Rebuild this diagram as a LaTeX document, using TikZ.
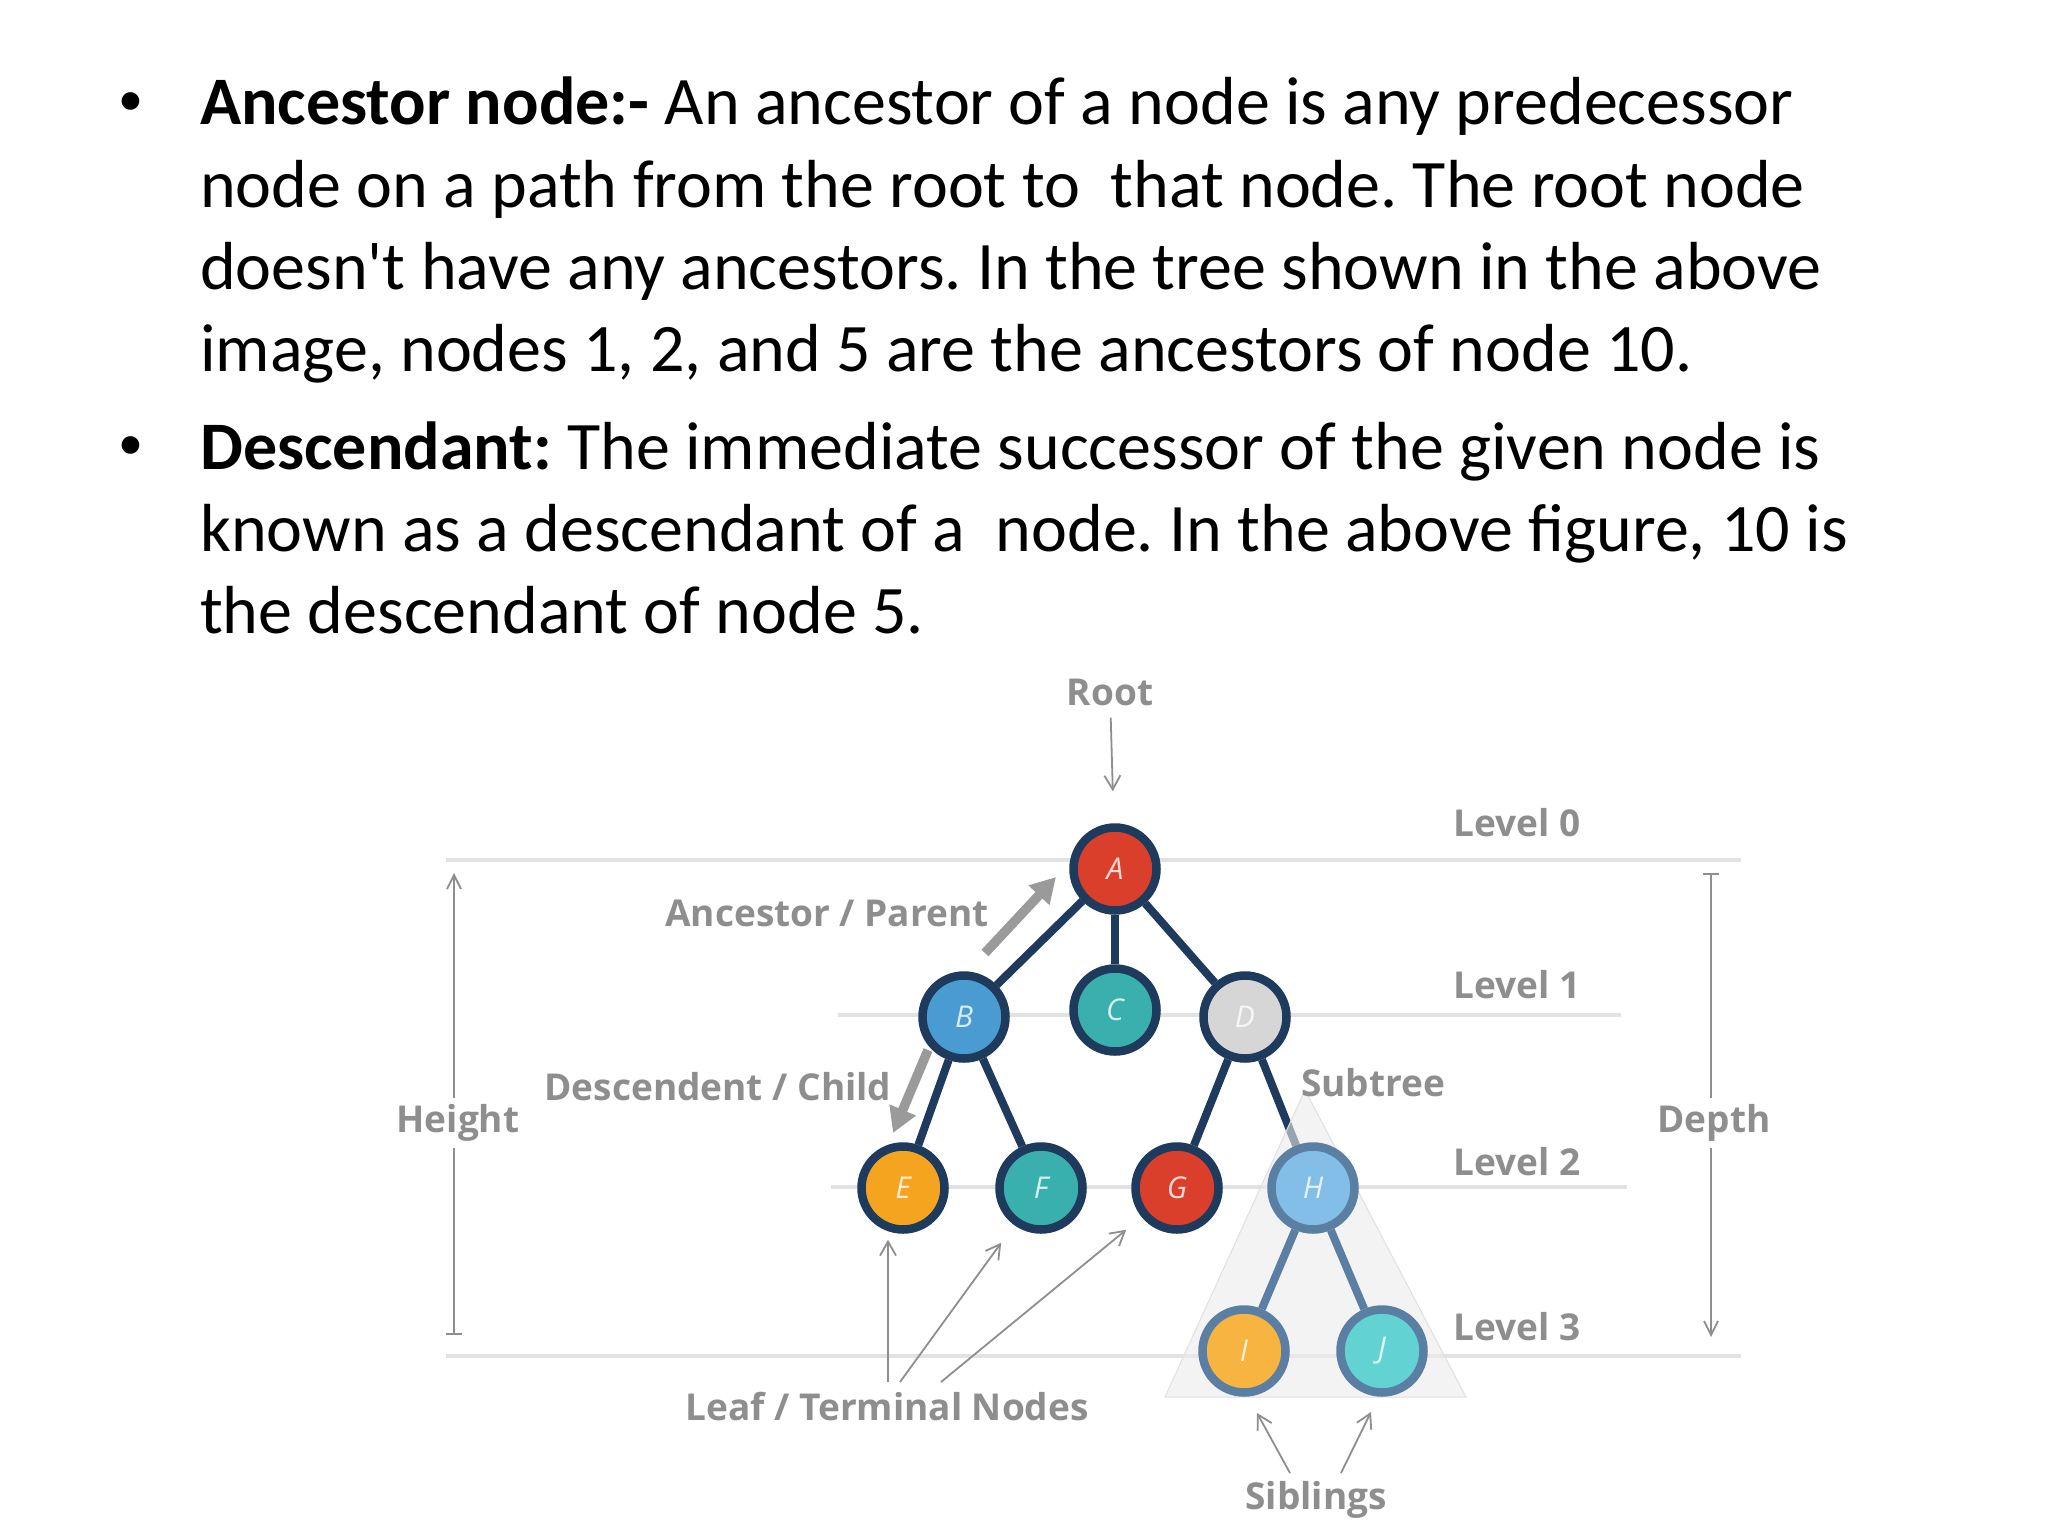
\documentclass[tikz,border=0pt]{standalone}
\usepackage{fontspec}
\setmainfont{Carlito}
\newfontfamily\lblfont{Open Sans}
\usepackage{xcolor}
\usetikzlibrary{arrows.meta,positioning,backgrounds}
\frenchspacing

\definecolor{navy}{HTML}{1E3A5C}
\definecolor{lblgray}{HTML}{8E8E8E}
\definecolor{arrgray}{HTML}{9A9A9A}
\definecolor{linegray}{HTML}{E2E2E2}
\definecolor{redA}{HTML}{D93F2A}
\definecolor{blueB}{HTML}{4A9BD2}
\definecolor{tealC}{HTML}{3AB0AE}
\definecolor{grayD}{HTML}{D6D6D6}
\definecolor{orangeE}{HTML}{F4A41F}
\definecolor{blueH}{HTML}{82BEE8}
\definecolor{orangeI}{HTML}{F7B440}
\definecolor{tealJ}{HTML}{62D2D2}
\definecolor{subborder}{HTML}{5B7FA3}
\definecolor{trigray}{HTML}{EBEBEB}

\begin{document}
\begin{tikzpicture}[x=1pt,y=-1pt,
  body/.style={font=\fontsize{68}{82}\selectfont, inner sep=0pt, anchor=base west},
  bullet/.style={font=\fontsize{50}{60}\selectfont, inner sep=0pt},
  lbl/.style={font=\lblfont\bfseries\fontsize{37}{37}\selectfont, text=lblgray, inner sep=0pt},
  tnode/.style={circle, minimum size=83pt, inner sep=0pt, line width=8.5pt, draw=navy,
    text=white, text opacity=0.8, font=\lblfont\itshape\fontsize{30}{30}\selectfont},
  subnode/.style={tnode, draw=subborder},
  edge/.style={draw=navy, line width=8pt},
  subedge/.style={draw=subborder, line width=8pt},
  levelline/.style={draw=linegray, line width=3.5pt},
  thinarrow/.style={draw=lblgray, line width=1.8pt, -{Straight Barb[length=14pt,width=16pt]}},
  bigarrow/.style={draw=arrgray, line width=9.5pt, -{Triangle[length=25pt,width=27pt]}},
  dimline/.style={draw=lblgray, line width=1.8pt}]
\useasboundingbox (0,0) rectangle (2048,1536);
% ---------- text ----------
\node[bullet] (bul1) at (131,104) {•};
\node[body] (t1) at (200,125) {\textbf{Ancestor node:-} An ancestor of a node is any predecessor};
\node[body] (t2) at (200,207) {node on a path from the root to\ \ that node. The root node};
\node[body] (t3) at (200,289) {doesn\textquotesingle t have any ancestors. In the tree shown in the above};
\node[body] (t4) at (200,371) {image, nodes 1, 2, and 5 are the ancestors of node 10.};
\node[bullet] (bul2) at (131,448) {•};
\node[body] (t5) at (200,469) {\textbf{Descendant:} The immediate successor of the given node is};
\node[body] (t6) at (200,551) {known as a descendant of a\ \ node. In the above figure, 10 is};
\node[body] (t7) at (200,633) {the descendant of node 5.};
% ---------- tree ----------
\node[tnode, fill=redA] (A) at (1115,869) {A};
\node[tnode, fill=blueB] (B) at (964,1017) {B};
\node[tnode, fill=tealC] (C) at (1115,1010) {C};
\node[tnode, fill=grayD] (D) at (1245,1017) {D};
\node[tnode, fill=orangeE] (E) at (903,1188) {E};
\node[tnode, fill=tealC] (F) at (1041,1188) {F};
\node[tnode, fill=redA] (G) at (1177,1188) {G};
\node[subnode, fill=blueH] (H) at (1313,1188) {H};
\node[subnode, fill=orangeI] (I) at (1244,1351) {I};
\node[subnode, fill=tealJ] (J) at (1382,1351) {J};
\begin{scope}[on background layer]
\fill[white] (0,0) rectangle (2048,1536);
\draw[levelline] (446,860) -- (1741,860);
\draw[levelline] (838,1015) -- (1621,1015);
\draw[levelline] (831,1187) -- (1627,1187);
\draw[levelline] (446,1356) -- (1741,1356);
\draw[edge] (A) -- (B);
\draw[edge] (A) -- (C);
\draw[edge] (A) -- (D);
\draw[edge] (B) -- (E);
\draw[edge] (B) -- (F);
\draw[edge] (D) -- (G);
\draw[edge] (D) -- (H);
\fill[trigray, fill opacity=0.6, draw=black!12, line width=1pt] (1305,1090) -- (1165,1397) -- (1466,1397) -- cycle;
\draw[subedge] (H) -- (I);
\draw[subedge] (H) -- (J);
\end{scope}
% ---------- labels ----------
\node[lbl] (root) at (1110,692) {Root};
\draw[thinarrow, shorten <=12pt, shorten >=32pt] (root) -- (A);
\node[lbl, anchor=west] (lev0) at (1453,823) {Level 0};
\node[lbl, anchor=west] (lev1) at (1453,985) {Level 1};
\node[lbl, anchor=west] (lev2) at (1453,1162) {Level 2};
\node[lbl, anchor=west] (lev3) at (1453,1327) {Level 3};
\node[lbl] (anc) at (827,913) {Ancestor / Parent};
\node[lbl] (desc) at (718,1087) {Descendent / Child};
\node[lbl] (sub) at (1373,1083) {Subtree};
\node[lbl] (leaf) at (887,1407) {Leaf / Terminal Nodes};
\node[lbl] (sib) at (1316,1500) {Siblings};
\node[lbl, fill=white, inner sep=6pt] (height) at (458,1123) {Height};
\node[lbl, fill=white, inner sep=6pt] (depth) at (1714,1123) {Depth};
\coordinate (htop) at (454,873);
\coordinate (hbot) at (454,1335);
\coordinate (dtop) at (1711,873);
\coordinate (dbot) at (1711,1337);
\draw[dimline, -{Straight Barb[length=14pt,width=14pt]}] (height.north -| htop) -- (htop);
\draw[dimline, -{Bar[width=16pt]}] (height.south -| hbot) -- (hbot);
\draw[dimline, -{Bar[width=16pt]}] (depth.north -| dtop) -- (dtop);
\draw[dimline, -{Straight Barb[length=14pt,width=14pt]}] (depth.south -| dbot) -- (dbot);
% thick pointers
\coordinate (ancfrom) at (985,953);
\coordinate (ancto) at (1056,877);
\coordinate (descfrom) at (928,1050);
\coordinate (descto) at (893,1133);
\draw[bigarrow] (ancfrom) -- (ancto);
\draw[bigarrow] (descfrom) -- (descto);
% leaf and sibling pointers
\coordinate (lf1) at (888,1382);
\coordinate (lf2) at (900,1382);
\coordinate (lf3) at (941,1382);
\draw[thinarrow, shorten >=6pt] (lf1) -- (lf1 |- E.south);
\draw[thinarrow, shorten >=22pt] (lf2) -- (F);
\draw[thinarrow, shorten >=20pt] (lf3) -- (G);
\coordinate (sb1) at (1290,1473);
\coordinate (sb2) at (1341,1473);
\coordinate (sbI) at (1257,1413);
\coordinate (sbJ) at (1371,1412);
\draw[thinarrow] (sb1) -- (sbI);
\draw[thinarrow] (sb2) -- (sbJ);
\end{tikzpicture}
\end{document}
